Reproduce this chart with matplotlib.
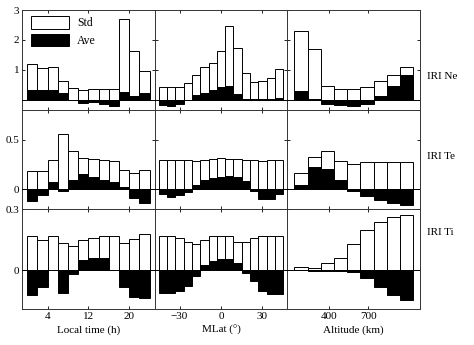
import matplotlib
matplotlib.use("Agg")
import matplotlib.pyplot as plt
import numpy as np
from matplotlib.patches import Patch

plt.rcParams['font.family'] = ['Liberation Serif', 'DejaVu Serif']
plt.rcParams['font.size'] = 8

# x bins
lt_centers = [1, 3, 5, 7, 9, 11, 13, 15, 17, 19, 21, 23]
mlat_centers = [-42, -36, -30, -24, -18, -12, -6, 0, 6, 12, 18, 24, 30, 36, 42]
alt_centers = [190, 290, 390, 490, 590, 690, 790, 890, 990]
lt_width, mlat_width, alt_width = 2, 6, 100

# IRI Ne
ne_lt_std = [1.19, 1.07, 1.08, 0.64, 0.38, 0.33, 0.36, 0.36, 0.36, 2.69, 1.64, 0.96]
ne_lt_ave = [0.33, 0.31, 0.31, 0.21, -0.01, -0.11, -0.09, -0.14, -0.20, 0.27, 0.11, 0.22]
ne_mlat_std = [0.44, 0.42, 0.42, 0.56, 0.81, 1.09, 1.22, 1.64, 2.48, 1.73, 0.89, 0.58, 0.63, 0.72, 1.02]
ne_mlat_ave = [-0.17, -0.20, -0.14, -0.01, 0.16, 0.24, 0.32, 0.42, 0.47, 0.19, 0.01, 0.02, 0.02, 0.03, 0.06]
ne_alt_std = [2.30, 1.71, 0.47, 0.36, 0.36, 0.44, 0.61, 0.83, 1.11]
ne_alt_ave = [0.30, 0.04, -0.13, -0.19, -0.22, -0.13, 0.12, 0.47, 0.82]

# IRI Te
te_lt_std = [0.18, 0.18, 0.29, 0.56, 0.39, 0.32, 0.31, 0.29, 0.28, 0.19, 0.16, 0.19]
te_lt_ave = [-0.12, -0.06, 0.07, -0.02, 0.09, 0.15, 0.12, 0.09, 0.07, 0.02, -0.09, -0.14]
te_mlat_std = [0.30, 0.30, 0.30, 0.30, 0.28, 0.29, 0.31, 0.32, 0.31, 0.31, 0.30, 0.29, 0.28, 0.29, 0.29]
te_mlat_ave = [-0.05, -0.08, -0.06, -0.03, 0.04, 0.09, 0.11, 0.12, 0.13, 0.12, 0.08, -0.02, -0.10, -0.10, -0.05]
te_alt_std = [0.16, 0.33, 0.39, 0.28, 0.25, 0.27, 0.27, 0.27, 0.27]
te_alt_ave = [0.04, 0.22, 0.20, 0.09, -0.02, -0.07, -0.11, -0.14, -0.16]

# IRI Ti
ti_lt_std = [0.17, 0.15, 0.17, 0.135, 0.12, 0.15, 0.16, 0.17, 0.17, 0.135, 0.155, 0.18]
ti_lt_ave = [-0.12, -0.08, 0.0, -0.11, -0.02, 0.05, 0.06, 0.06, 0.003, -0.08, -0.13, -0.135]
ti_mlat_std = [0.17, 0.17, 0.16, 0.14, 0.13, 0.15, 0.17, 0.17, 0.17, 0.14, 0.14, 0.16, 0.17, 0.17, 0.17]
ti_mlat_ave = [-0.11, -0.11, -0.10, -0.075, -0.026, 0.024, 0.047, 0.054, 0.054, 0.034, -0.015, -0.05, -0.10, -0.115, -0.115]
ti_alt_std = [0.016, 0.013, 0.034, 0.062, 0.13, 0.197, 0.24, 0.26, 0.27]
ti_alt_ave = [0.0, -0.005, -0.005, -0.005, -0.01, -0.04, -0.08, -0.12, -0.145]

row_labels = ['IRI Ne', 'IRI Te', 'IRI Ti']
col_xlabels = ['Local time (h)', 'MLat (°)', 'Altitude (km)']
col_xticks = [[4, 12, 20], [-30, 0, 30], [400, 700]]
col_xlims = [(-1, 25), (-48, 48), (87, 1090)]
row_ylims = [(-0.333, 3.0), (-0.2, 0.8), (-0.19, 0.3)]
row_yticks = [[1, 2, 3], [0, 0.5], [0, 0.3]]
row_yticklabels = [['1', '2', '3'], ['0', '0.5'], ['0', '0.3']]
row_label_y = [0.33, 0.53, 0.77]

centers = [lt_centers, mlat_centers, alt_centers]
widths = [lt_width, mlat_width, alt_width]
stds = [[ne_lt_std, ne_mlat_std, ne_alt_std],
        [te_lt_std, te_mlat_std, te_alt_std],
        [ti_lt_std, ti_mlat_std, ti_alt_std]]
aves = [[ne_lt_ave, ne_mlat_ave, ne_alt_ave],
        [te_lt_ave, te_mlat_ave, te_alt_ave],
        [ti_lt_ave, ti_mlat_ave, ti_alt_ave]]

fig = plt.figure(figsize=(4.74, 3.45), dpi=100)
gs = fig.add_gridspec(3, 3, left=22/474, right=420/474, top=1-10/345, bottom=1-309/345,
                      wspace=0, hspace=0)

for r in range(3):
    for c in range(3):
        ax = fig.add_subplot(gs[r, c])
        ax.bar(centers[c], stds[r][c], width=widths[c], color='white',
               edgecolor='black', linewidth=0.7, zorder=2)
        ax.bar(centers[c], aves[r][c], width=widths[c], color='black',
               edgecolor='black', linewidth=0.7, zorder=3)
        ax.axhline(0, color='black', linewidth=0.7, zorder=4)
        ax.set_xlim(*col_xlims[c])
        ax.set_ylim(*row_ylims[r])
        ax.set_xticks(col_xticks[c])
        ax.set_yticks(row_yticks[r])
        ax.tick_params(direction='in', length=2.5, width=0.6, top=True, right=True,
                       labelsize=8, pad=2, colors='black')
        for s in ax.spines.values():
            s.set_linewidth(0.7)
            s.set_color('#333333')
        if c == 0:
            ax.set_yticklabels(row_yticklabels[r])
        else:
            ax.set_yticklabels([])
        if r == 2:
            ax.set_xticklabels([str(t).replace('-', '\u2212') for t in col_xticks[c]])
            ax.set_xlabel(col_xlabels[c], fontsize=8, labelpad=3)
        else:
            ax.set_xticklabels([])
        if c == 2:
            ax.text(1.05, row_label_y[r], row_labels[r], transform=ax.transAxes,
                    fontsize=8, va='center', ha='left')
        if r == 0 and c == 0:
            handles = [Patch(facecolor='white', edgecolor='black', linewidth=0.7, label='Std'),
                       Patch(facecolor='black', edgecolor='black', linewidth=0.7, label='Ave')]
            ax.legend(handles=handles, loc='upper left', bbox_to_anchor=(0.07, 0.94),
                      frameon=False, handlelength=3.2, handleheight=1.3,
                      handletextpad=0.7, labelspacing=0.35, borderpad=0,
                      borderaxespad=0, fontsize=8.5)

fig.savefig('out.png', dpi=100)
